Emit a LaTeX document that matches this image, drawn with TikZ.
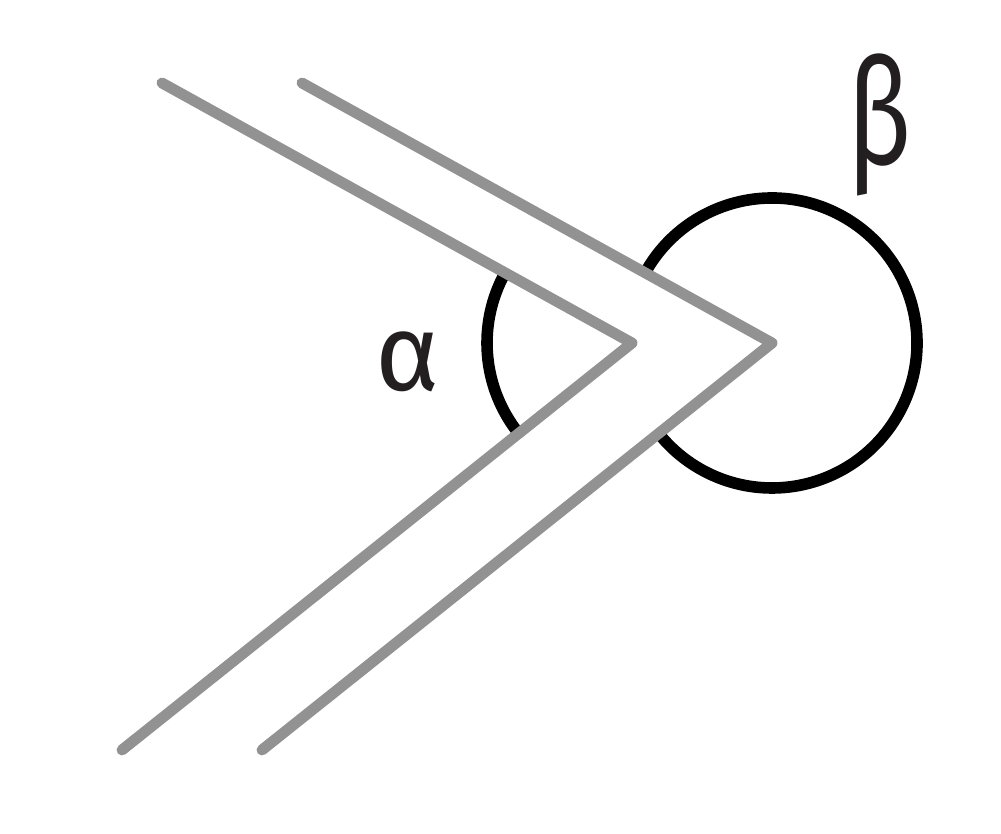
\documentclass[tikz,border=0pt]{standalone}
\usepackage{graphicx}
\usepackage{fontspec}
\setmainfont{Fira Sans}
\definecolor{armgray}{HTML}{929292}
\definecolor{labelblack}{HTML}{231F20}
\begin{document}
\begin{tikzpicture}
	\tikzstyle{arm} = [armgray,line width=3.1pt,line cap=round,line join=round]
	\tikzstyle{angle} = [black,line width=3.3pt]
	\tikzstyle{lab} = [labelblack,inner sep=0pt]
		\useasboundingbox (0,0) rectangle (10.01,8.34);
		
		\coordinate (v1) at (6.32,4.91);
		\coordinate (v2) at (7.72,4.91);
		\coordinate (a1) at (1.62,7.51);
		\coordinate (b1) at (1.22,0.84);
		\coordinate (a2) at (3.02,7.51);
		\coordinate (b2) at (2.62,0.84);
		
		\draw[angle] (v1) ++(151.05:1.45) arc[start angle=151.05,end angle=218.6,radius=1.45];
		\draw[angle] (v2) ++(151.05:1.45) arc[start angle=151.05,end angle=-141.4,radius=1.45];
		
		\draw[arm] (a1) -- (v1) -- (b1);
		\draw[arm] (a2) -- (v2) -- (b2);
		
		\node[lab] (alpha) at (4.08,4.72) {\fontsize{31}{36}\selectfont α};
		\node[lab] (beta) at (8.80,7.09) {\scalebox{0.72}[1]{\fontsize{42}{48}\selectfont β}};
		
\end{tikzpicture}
\end{document}
